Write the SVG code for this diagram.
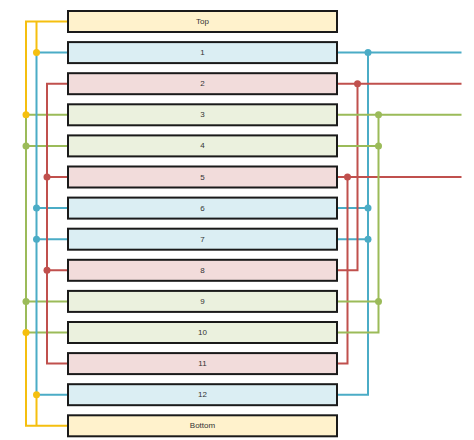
<svg xmlns="http://www.w3.org/2000/svg" width="474" height="440" viewBox="0 0 474 440">
<style>
.w{fill:none;stroke-width:2;stroke-linejoin:miter}
.y{stroke:#f5bf0f}.b{stroke:#4bacc6}.r{stroke:#c0504d}.g{stroke:#9bbb59}
.dy{fill:#f5bf0f}.db{fill:#4bacc6}.dr{fill:#c0504d}.dg{fill:#9bbb59}
rect{stroke:#1a1a1a;stroke-width:2}
.fy{fill:#fff2cc}.fb{fill:#dbeef3}.fr{fill:#f2dcdb}.fg{fill:#ebf1de}
text{font-family:"Liberation Sans",Arial,sans-serif;font-size:8px;fill:#333;text-anchor:middle;dominant-baseline:central}
</style>
<g id="connectors">
<path class="w g" d="M68,114.8 H26 V332.5 H68 M26,145.9 H68 M26,301.4 H68"/>
<path class="w b" d="M68,52.6 H36.5 V394.7 H68 M36.5,208.1 H68 M36.5,239.2 H68"/>
<path class="w r" d="M68,83.7 H47 V363.6 H68 M47,177 H68 M47,270.3 H68"/>
<path class="w y" d="M68,21.5 H26 V114.8 M36.5,21.5 V52.6 M68,425.8 H26 V332.5 M36.5,425.8 V394.7"/>
<path class="w b" d="M337,52.6 H461.5 M368,52.6 V394.7 H337 M337,208.1 H368 M337,239.2 H368"/>
<path class="w r" d="M337,83.7 H461.5 M357.5,83.7 V270.3 H337 M337,177 H461.5 M347.5,177 V363.6 H337"/>
<path class="w g" d="M337,114.8 H461.5 M378.5,114.8 V332.5 H337 M337,145.9 H378.5 M337,301.4 H378.5"/>
<circle class="dy" cx="36.5" cy="52.6" r="3.5"/>
<circle class="dy" cx="26" cy="114.8" r="3.5"/>
<circle class="dy" cx="26" cy="332.5" r="3.5"/>
<circle class="dy" cx="36.5" cy="394.7" r="3.5"/>
<circle class="dg" cx="26" cy="145.9" r="3.5"/>
<circle class="dg" cx="26" cy="301.4" r="3.5"/>
<circle class="db" cx="36.5" cy="208.1" r="3.5"/>
<circle class="db" cx="36.5" cy="239.2" r="3.5"/>
<circle class="dr" cx="47" cy="177" r="3.5"/>
<circle class="dr" cx="47" cy="270.3" r="3.5"/>
<circle class="db" cx="368" cy="52.6" r="3.5"/>
<circle class="db" cx="368" cy="208.1" r="3.5"/>
<circle class="db" cx="368" cy="239.2" r="3.5"/>
<circle class="dr" cx="357.5" cy="83.7" r="3.5"/>
<circle class="dr" cx="347.5" cy="177" r="3.5"/>
<circle class="dg" cx="378.5" cy="114.8" r="3.5"/>
<circle class="dg" cx="378.5" cy="145.9" r="3.5"/>
<circle class="dg" cx="378.5" cy="301.4" r="3.5"/>
</g>
<g id="top"><rect class="fy" x="68" y="11" width="269" height="21"/><text x="202.5" y="21.5">Top</text></g>
<g id="n1"><rect class="fb" x="68" y="42.1" width="269" height="21"/><text x="202.5" y="52.6">1</text></g>
<g id="n2"><rect class="fr" x="68" y="73.2" width="269" height="21"/><text x="202.5" y="83.7">2</text></g>
<g id="n3"><rect class="fg" x="68" y="104.3" width="269" height="21"/><text x="202.5" y="114.8">3</text></g>
<g id="n4"><rect class="fg" x="68" y="135.4" width="269" height="21"/><text x="202.5" y="145.9">4</text></g>
<g id="n5"><rect class="fr" x="68" y="166.5" width="269" height="21"/><text x="202.5" y="177">5</text></g>
<g id="n6"><rect class="fb" x="68" y="197.6" width="269" height="21"/><text x="202.5" y="208.1">6</text></g>
<g id="n7"><rect class="fb" x="68" y="228.7" width="269" height="21"/><text x="202.5" y="239.2">7</text></g>
<g id="n8"><rect class="fr" x="68" y="259.8" width="269" height="21"/><text x="202.5" y="270.3">8</text></g>
<g id="n9"><rect class="fg" x="68" y="290.9" width="269" height="21"/><text x="202.5" y="301.4">9</text></g>
<g id="n10"><rect class="fg" x="68" y="322" width="269" height="21"/><text x="202.5" y="332.5">10</text></g>
<g id="n11"><rect class="fr" x="68" y="353.1" width="269" height="21"/><text x="202.5" y="363.6">11</text></g>
<g id="n12"><rect class="fb" x="68" y="384.2" width="269" height="21"/><text x="202.5" y="394.7">12</text></g>
<g id="bottom"><rect class="fy" x="68" y="415.3" width="269" height="21"/><text x="202.5" y="425.8">Bottom</text></g>
</svg>
